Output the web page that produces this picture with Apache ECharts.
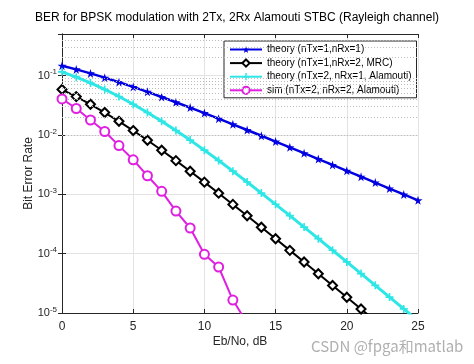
<!DOCTYPE html>
<html><head><meta charset="utf-8">
<script src="https://cdn.jsdelivr.net/npm/echarts@6/dist/echarts.min.js"></script>
<style>html,body{margin:0;padding:0;background:#fff}#c{width:474px;height:364px}</style>
</head><body><div id="c"></div>
<script>
// ---- data ----
const EBNO = [0,1,2,3,4,5,6,7,8,9,10,11,12,13,14,15,16,17,18,19,20,21,22,23,24,25];
const SIM_EBNO = [0,1,2,3,4,5,6,7,8,9,10,11,12,13];
const THEORY_1x1 = [0.1464,0.1267,0.1085,0.09191,0.07714,0.06418,0.05300,0.04348,0.03546,0.02878,0.02327,0.01875,0.01507,0.01208,0.009666,0.007723,0.006164,0.004915,0.003916,0.003118,0.002481,0.001974,0.001570,0.001248,0.000992,0.000789];
const THEORY_MRC = [0.05806,0.04411,0.03276,0.02379,0.01693,0.01183,0.008129,0.005507,0.003683,0.002437,0.001599,0.001042,0.0006742,0.0004342,0.0002785,0.0001780,0.0001135,0.00007223,0.00004588,0.00002911,0.00001844,0.00001167,0.000007387,0.000004669,0.00000295,0.000001866];
const THEORY_ALA = [0.1151,0.09387,0.07481,0.05822,0.04424,0.03286,0.02387,0.01699,0.01188,0.008163,0.005528,0.003698,0.002448,0.001606,0.001046,0.0006771,0.0004360,0.0002798,0.0001788,0.0001140,0.00007256,0.00004610,0.00002924,0.00001852,0.00001173,0.000007425];
const SIM_ALA22 = [0.0403,0.0278,0.0178,0.0114,0.0066,0.0038,0.00205,0.00112,0.00052,0.00027,0.0000975,0.0000595,0.0000165,0.0000068];
const SERIES_NAMES = ['theory (nTx=1,nRx=1)','theory (nTx=1,nRx=2, MRC)','theory (nTx=2, nRx=1, Alamouti)','sim (nTx=2, nRx=2, Alamouti)'];
const X_MIN = 0, X_MAX = 25, X_STEP = 5;
const Y_MIN = 1e-5, Y_MAX = 0.5;
const MINOR_GRID = [2e-5,3e-5,4e-5,5e-5,6e-5,7e-5,8e-5,9e-5,2e-4,3e-4,4e-4,5e-4,6e-4,7e-4,8e-4,9e-4,2e-3,3e-3,4e-3,5e-3,6e-3,7e-3,8e-3,9e-3,0.02,0.03,0.04,0.05,0.06,0.07,0.08,0.09,0.2,0.3,0.4];
const TITLE = 'BER for BPSK modulation with 2Tx, 2Rx Alamouti STBC (Rayleigh channel)';
const X_NAME = 'Eb/No, dB';
const Y_NAME = 'Bit Error Rate';
const WATERMARK = 'CSDN @fpga和matlab';

const pairs = (xs, ys) => ys.map((v, i) => [xs[i], v]);
const FONT = 'Liberation Sans, Arial, sans-serif';
const AX = '#262626';

const STAR = 'path://M50,0 L61,35 L98,35 L68,57 L79,91 L50,70 L21,91 L32,57 L2,35 L39,35 Z';
const PLUS = 'path://M40,0 H60 V40 H100 V60 H60 V100 H40 V60 H0 V40 H40 Z';

function yLabel(v) {
  const e = Math.log10(v), r = Math.round(e);
  if (Math.abs(e - r) > 1e-6) return '';
  return '{b|10}{s|' + r + '}';
}

const chart = echarts.init(document.getElementById('c'), null, {renderer: 'canvas'});
chart.setOption({
  backgroundColor: '#fff',
  animation: false,
  textStyle: {fontFamily: FONT},
  title: {text: TITLE, left: 'center', top: 12, padding: 0,
    textStyle: {fontSize: 12, fontWeight: 'normal', color: '#000', fontFamily: FONT}},
  grid: {left: 62, right: 56, top: 34, bottom: 51, containLabel: false},
  legend: {
    data: SERIES_NAMES, orient: 'vertical', left: 224, top: 41,
    padding: [3, 5, 2, 5], itemGap: 2.6, itemWidth: 32, itemHeight: 9,
    backgroundColor: '#fff', borderColor: '#262626', borderWidth: 1, borderRadius: 0,
    textStyle: {fontSize: 10, lineHeight: 11, color: '#000', fontFamily: FONT}
  },
  xAxis: [{
    type: 'value', min: X_MIN, max: X_MAX, interval: X_STEP,
    name: X_NAME, nameLocation: 'middle', nameGap: 23, nameMoveOverlap: false,
    nameTextStyle: {fontSize: 12, color: AX, fontFamily: FONT},
    axisLine: {lineStyle: {color: AX, width: 1}},
    axisTick: {inside: true, length: 4, lineStyle: {color: AX}},
    axisLabel: {fontSize: 12, color: AX, margin: 8, fontFamily: FONT},
    splitLine: {show: true, lineStyle: {color: '#e3e3e3', width: 1}}
  }, {
    type: 'value', position: 'top', min: X_MIN, max: X_MAX, interval: X_STEP,
    axisLine: {lineStyle: {color: AX, width: 1}},
    axisTick: {inside: true, length: 4, lineStyle: {color: AX}},
    axisLabel: {show: false}, splitLine: {show: false}
  }],
  yAxis: [{
    type: 'log', logBase: 10, min: Y_MIN, max: Y_MAX,
    name: Y_NAME, nameLocation: 'middle', nameGap: 27, nameMoveOverlap: false,
    nameTextStyle: {fontSize: 12, color: AX, fontFamily: FONT},
    axisLine: {show: true, lineStyle: {color: AX, width: 1}},
    axisTick: {show: true, inside: true, length: 4, lineStyle: {color: AX}},
    axisLabel: {formatter: yLabel, margin: 5, color: AX,
      rich: {b: {fontSize: 11, color: AX, fontFamily: FONT},
             s: {fontSize: 8, color: AX, fontFamily: FONT, padding: [0, 0, 7, 0]}}},
    splitLine: {show: true, lineStyle: {color: '#e3e3e3', width: 1}}
  }, {
    type: 'log', logBase: 10, min: Y_MIN, max: Y_MAX, position: 'right',
    axisLine: {show: true, lineStyle: {color: AX, width: 1}},
    axisTick: {show: true, inside: true, length: 4, lineStyle: {color: AX}},
    axisLabel: {show: false}, splitLine: {show: false}
  }],
  graphic: [{type: 'text', left: 311, top: 339,
    style: {text: WATERMARK, fontSize: 15, fill: '#b0b0b0', fontFamily: 'Noto Sans CJK SC, sans-serif'}}],
  series: [
    {type: 'line', name: '_minor', data: [], silent: true, z: 1,
     markLine: {silent: true, symbol: ['none', 'none'], label: {show: false},
       lineStyle: {type: [1, 2], color: '#bdbdbd', width: 1},
       emphasis: {disabled: true},
       data: MINOR_GRID.map(v => ({yAxis: v}))}},
    {type: 'line', name: SERIES_NAMES[0], data: pairs(EBNO, THEORY_1x1), z: 3,
     symbol: STAR, symbolSize: 9, showAllSymbol: true,
     lineStyle: {color: '#0000e0', width: 2.5}, itemStyle: {color: '#0000e0'}},
    {type: 'line', name: SERIES_NAMES[1], data: pairs(EBNO, THEORY_MRC), z: 4,
     symbol: 'emptyDiamond', symbolSize: 9, showAllSymbol: true,
     lineStyle: {color: '#000', width: 2}, itemStyle: {color: '#000', borderWidth: 1.8}},
    {type: 'line', name: SERIES_NAMES[2], data: pairs(EBNO, THEORY_ALA), z: 5,
     symbol: PLUS, symbolSize: 8, showAllSymbol: true,
     lineStyle: {color: '#2ee6e6', width: 3}, itemStyle: {color: '#2ee6e6'}},
    {type: 'line', name: SERIES_NAMES[3], data: pairs(SIM_EBNO, SIM_ALA22), z: 6,
     symbol: 'emptyCircle', symbolSize: 9, showAllSymbol: true,
     lineStyle: {color: '#e020e0', width: 2}, itemStyle: {color: '#e020e0', borderWidth: 1.8}}
  ]
});
</script></body></html>
